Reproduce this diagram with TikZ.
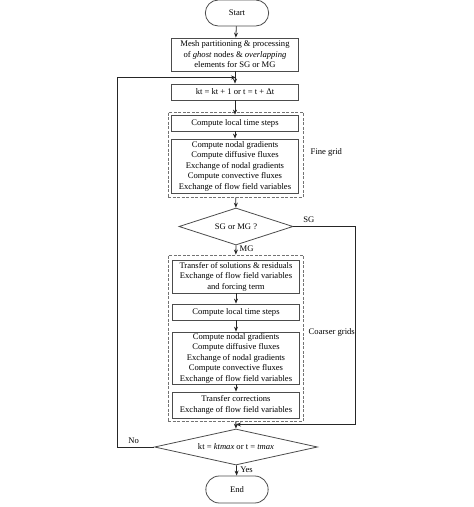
\documentclass[tikz,border=0pt]{standalone}
\usepackage{fontspec}
\setmainfont{Liberation Serif}
\usetikzlibrary{shapes.geometric,shapes.misc,arrows.meta}

\begin{document}
\begin{tikzpicture}[x=1pt, y=-1pt, font=\fontsize{8.6}{10.5}\selectfont,
  line width=0.8pt,
  box/.style={draw=black!70, rectangle, minimum width=127, align=center, inner sep=1pt},
  term/.style={draw=black!70, rounded rectangle, minimum width=70, minimum height=26},
  dec/.style={draw=black!70, diamond, inner sep=0pt},
  group/.style={draw=black!55, dash pattern=on 3pt off 1.5pt, rectangle},
  arr/.style={-{Stealth[length=5pt,width=4pt]}, draw=black!85}]
\useasboundingbox (0,0) rectangle (474,507);

\node (start) [term] at (237,13) {Start};
\node (mesh) [box, minimum height=33] at (235,54.5) {Mesh partitioning \& processing\\of \textit{ghost} nodes \& \textit{overlapping}\\elements for SG or MG};
\node (kt) [box, minimum height=16] at (235,92) {kt = kt + 1 or t = t + Δt};

\node (fine) [group, minimum width=135, minimum height=85] at (235.5,154.5) {};
\node (lts1) [box, minimum height=16] at (235,123) {Compute local time steps};
\node (grad1) [box, minimum height=54] at (235,166) {Compute nodal gradients\\Compute diffusive fluxes\\Exchange of nodal gradients\\Compute convective fluxes\\Exchange of flow field variables};
\node (finelab) [anchor=west] at (307,152) {Fine grid};

\node (sgmg) [dec, shape aspect=3, minimum width=114, minimum height=37] at (236,226.5) {SG or MG ?};

\node (coarse) [group, minimum width=135, minimum height=166] at (235.5,338) {};
\node (trans) [box, minimum height=33] at (236,276.5) {Transfer of solutions \& residuals\\Exchange of flow field variables\\and forcing term};
\node (lts2) [box, minimum height=16] at (236,312) {Compute local time steps};
\node (grad2) [box, minimum height=50] at (236,358) {Compute nodal gradients\\Compute diffusive fluxes\\Exchange of nodal gradients\\Compute convective fluxes\\Exchange of flow field variables};
\node (corr) [box, minimum height=26] at (236,405) {Transfer corrections\\Exchange of flow field variables};
\node (coarselab) [anchor=west] at (305,332) {Coarser grids};

\node (tmax) [dec, shape aspect=4.5, minimum width=163, minimum height=36] at (236,447) {kt = \textit{ktmax} or t = \textit{tmax}};
\node (end) [term, minimum width=69, minimum height=27] at (237,489.5) {End};

\coordinate (loopin) at (236,77.5);
\coordinate (join) at (236,424.5);

\draw[arr] (start) -- (mesh);
\draw[arr] (mesh) -- (kt);
\draw[arr] (kt) -- (lts1);
\draw[arr] (lts1) -- (grad1);
\draw[arr] (fine) -- (sgmg);
\draw[arr] (sgmg) -- node[right, pos=0.35] {MG} (coarse);
\draw[arr] (trans) -- (lts2);
\draw[arr] (lts2) -- (grad2);
\draw[arr] (grad2) -- (corr);
\draw[arr] (coarse) -- (tmax);
\draw[arr] (sgmg.east) -- node[above, pos=0.25] {SG} ++(62,0) |- (join);
\draw[arr] (tmax.west) -- node[above, pos=0.55] {No} ++(-37,0) |- (loopin);
\draw[arr] (tmax) -- node[right, pos=0.4] {Yes} (end);
\end{tikzpicture}
\end{document}
